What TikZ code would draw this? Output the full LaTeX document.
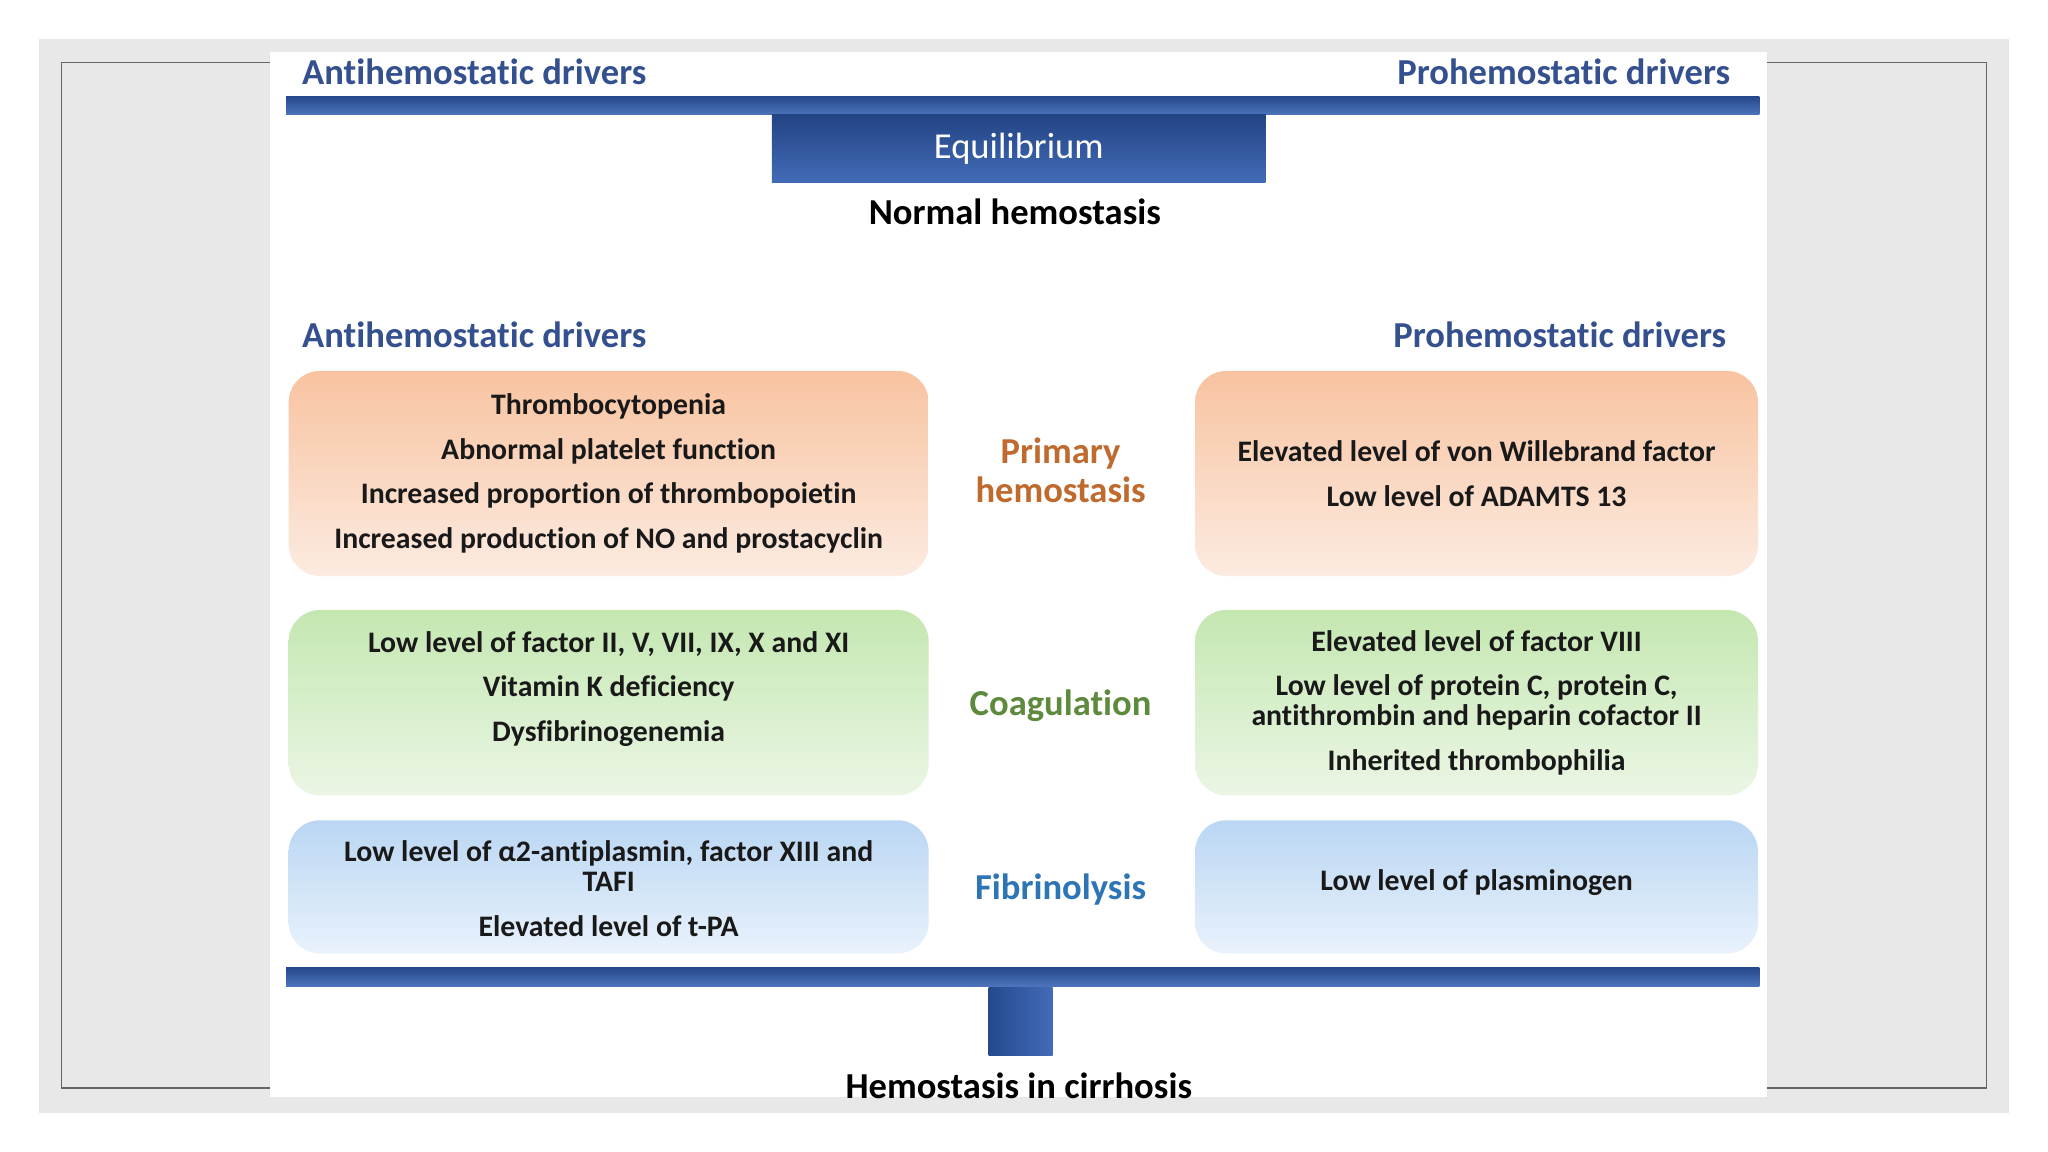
\documentclass[tikz,border=0pt]{standalone}
\usepackage{fontspec}
\setmainfont{Carlito}[Ligatures=NoCommon]
\usetikzlibrary{positioning,shadings}
\definecolor{hdblue}{HTML}{34508F}
\definecolor{barblue}{HTML}{2E5BB0}
\definecolor{phcol}{HTML}{BF6A2E}
\definecolor{gccol}{HTML}{5E8A3D}
\definecolor{fbcol}{HTML}{2E75B6}
\definecolor{orangetop}{HTML}{F8C3A0}
\definecolor{orangebot}{HTML}{FCEBE1}
\definecolor{greentop}{HTML}{C4E7B1}
\definecolor{greenbot}{HTML}{EBF6E5}
\definecolor{bluetop}{HTML}{BAD6F3}
\definecolor{bluebot}{HTML}{E9F2FC}
\newcommand{\gap}{\\[5.5pt]}

\begin{document}
\begin{tikzpicture}[x=0.5pt,y=-0.5pt]
                        \tikzstyle{bar}=[inner sep=0pt, minimum width=564pt, minimum height=7pt,
                            top color=barblue!80!black, bottom color=barblue!85!white]
                        \tikzstyle{heading}=[inner sep=0pt, text=hdblue, font=\fontsize{14}{16}\selectfont\bfseries]
                        \tikzstyle{title}=[inner sep=0pt, font=\fontsize{14}{16}\selectfont\bfseries]
                        \tikzstyle{box}=[inner sep=0pt, rounded corners=12pt, minimum height=78.5pt]
                        \tikzstyle{leftbox}=[box, minimum width=245pt]
                        \tikzstyle{rightbox}=[box, minimum width=215.5pt]
                        \tikzstyle{orangebox}=[top color=orangetop, bottom color=orangebot]
                        \tikzstyle{greenbox}=[top color=greentop, bottom color=greenbot, minimum height=71pt]
                        \tikzstyle{bluebox}=[top color=bluetop, bottom color=bluebot, minimum height=51pt]
                        \tikzstyle{item}=[inner sep=0pt, align=center, text=black!90, font=\fontsize{11.4}{11.5}\selectfont\bfseries]
                        \tikzstyle{field}=[inner sep=0pt, align=center, font=\fontsize{14}{15}\selectfont\bfseries]
                        % page and frame
                        \fill[white] (0,0) rectangle (1568,882);
                        \fill[black!9] (30,30) rectangle (1538,852);
                        \draw[black!60, line width=0.6pt] (47,48) rectangle (1521,833);
                        \fill[white] (207,40) rectangle (1353,840);
                        % normal hemostasis
                        \node[heading, anchor=west] (antiTop) at (231,55) {Antihemostatic drivers};
                        \node[heading, anchor=east] (proTop) at (1325,55) {Prohemostatic drivers};
                        \node[bar] (topBar) at (783,81) {};
                        \node[inner sep=0pt, minimum width=189pt, minimum height=26pt,
                            top color=barblue!75!black, bottom color=barblue!90!white,
                            text=white, font=\fontsize{14}{16}\selectfont] (equil) at (780,114) {Equilibrium};
                        \node[title] (normal) at (777,162) {Normal hemostasis};
                        % cirrhosis
                        \node[heading, anchor=west] (antiLow) at (231,256) {Antihemostatic drivers};
                        \node[heading, anchor=east] (proLow) at (1322,256) {Prohemostatic drivers};
                        \node[leftbox, orangebox] (phL) at (466,362.5) {};
                        \node[rightbox, orangebox] (phR) at (1130.5,362.5) {};
                        \node[leftbox, greenbox] (gcL) at (466,538) {};
                        \node[rightbox, greenbox] (gcR) at (1130.5,538) {};
                        \node[leftbox, bluebox] (fbL) at (466,679) {};
                        \node[rightbox, bluebox] (fbR) at (1130.5,679) {};
                        \node[item] (phLtext) at (phL) {Thrombocytopenia\gap Abnormal platelet function\gap
                            Increased proportion of thrombopoietin\gap Increased production of NO and prostacyclin};
                        \node[item] (phRtext) at (phR) {Elevated level of von Willebrand factor\gap Low level of ADAMTS 13};
                        \node[item] (gcLtext) at (466,527.5) {Low level of factor II, V, VII, IX, X and XI\gap
                            Vitamin K deficiency\gap Dysfibrinogenemia};
                        \node[item] (gcRtext) at (gcR) {Elevated level of factor VIII\gap
                            Low level of protein C, protein C,\\ antithrombin and heparin cofactor II\gap
                            Inherited thrombophilia};
                        \node[item] (fbLtext) at (466,680.5) {Low level of α2-antiplasmin, factor XIII and\\ TAFI\gap
                            Elevated level of t-PA};
                        \node[item] (fbRtext) at (1130.5,676) {Low level of plasminogen};
                        \node[field, text=phcol] (primary) at (812,360) {Primary\\hemostasis};
                        \node[field, text=gccol] (coag) at (812,540) {Coagulation};
                        \node[field, text=fbcol] (fibrin) at (812,681) {Fibrinolysis};
                        \node[bar] (lowBar) at (783,748) {};
                        \node[inner sep=0pt, minimum width=24.5pt, minimum height=26pt,
                            left color=barblue!80!black, right color=barblue!90!white,
                            below=0pt of lowBar, xshift=-0.75pt] (stem) {};
                        \node[title] (cirrhosis) at (780,831) {Hemostasis in cirrhosis};
                        \useasboundingbox (0,0) rectangle (1568,882);
                    \end{tikzpicture}
\end{document}
